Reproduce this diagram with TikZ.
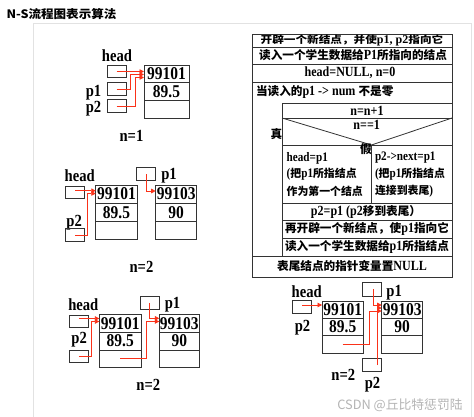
\documentclass[tikz,border=0pt]{standalone}
\usepackage{fontspec}
\setmainfont{Liberation Serif}
\newfontfamily\cjk{Noto Sans CJK SC}
\newfontfamily\cjkb[Scale=0.93]{Noto Sans CJK SC}
\usetikzlibrary{arrows.meta}
\definecolor{redc}{RGB}{250,50,25}
\definecolor{panelc}{RGB}{226,226,226}
\definecolor{wmc}{RGB}{180,180,180}
\newcommand\dl[1]{\scalebox{0.86}[1]{\fontsize{17}{17}\selectfont\bfseries #1}}
\newcommand\dv[1]{\scalebox{0.86}[1]{\fontsize{18}{18}\selectfont\bfseries #1}}
\newcommand\Z[1]{{\cjkb\bfseries #1}}
\newcommand\Lf[1]{\scalebox{0.86}[1]{\fontsize{14}{14}\selectfont\bfseries #1}}
\newcommand\Lb[1]{\scalebox{0.86}[1]{\fontsize{13}{13}\selectfont\bfseries #1}}
\newcommand\fa{\fontsize{12.5}{15}\selectfont}
\newcommand\fb{\fontsize{11.7}{14}\selectfont}
\tikzset{
  bx/.style={draw=black!80, line width=0.75pt, inner sep=0pt, outer sep=0pt},
  pb/.style={bx, minimum width=19pt, minimum height=12.3pt},
  txt/.style={inner sep=0pt, outer sep=0pt},
  ft/.style={txt, font=\fa},
  fbr/.style={txt, font=\fb, anchor=west},
  ptr/.style={draw=redc, line width=0.8pt, -{Triangle[length=4.5pt,width=4.5pt]}},
  ns/.style={draw=black!80, line width=0.8pt},
}
\begin{document}
\begin{tikzpicture}[x=1pt,y=-1pt]
\useasboundingbox (0,0) rectangle (474,417);
\fill[white] (0,0) rectangle (474,417);
\draw[panelc, line width=0.8pt] (33,417) -- (33,23.5) -- (471,23.5) -- (471,417);
% title
\node[txt] (title) at (61.5,14) {\scalebox{1.08}[1]{\fontsize{12.5}{12.5}\selectfont\cjkb\bfseries N-S流程图表示算法}};

% ---------- diagram 1 ----------
\node[txt] (hd1) at (117,56) {\dl{head}};
\node[txt] (lp11) at (93.5,92.5) {\dl{p1}};
\node[txt] (lp21) at (93.5,109) {\dl{p2}};
\node[pb] (H1) at (116.5,71.5) {};
\node[pb] (P11) at (116.5,89) {};
\node[pb] (P21) at (116.5,106) {};
\node[bx, minimum width=45pt, minimum height=17.8pt] (A1a) at (166.5,73.9) {\dv{99101}};
\node[bx, minimum width=45pt, minimum height=17.8pt] (A1b) at (166.5,91.7) {\dv{89.5}};
\node[bx, minimum width=45pt, minimum height=17.8pt] (A1c) at (166.5,109.5) {};
\node[txt] (n1) at (131.5,136) {\dl{n=1}};
\draw[ptr] (H1.center) -- (A1a.west |- H1.center);
\draw[ptr] (P11.center) -- ++(13.5,0) |- (A1a.west |- 0,74.5);
\draw[ptr] (P21.center) -- ++(19,0) |- (A1a.west |- 0,77.5);

% ---------- diagram 2 ----------
\node[txt] (hd2) at (79.7,175.5) {\dl{head}};
\node[txt] (lp22) at (74.2,222.5) {\dl{p2}};
\node[pb] (H2) at (75,192.2) {};
\node[pb] (P22) at (75,235) {};
\node[bx, minimum width=41.5pt, minimum height=18.2pt] (A2a) at (116.5,194.1) {\dv{99101}};
\node[bx, minimum width=41.5pt, minimum height=18.2pt] (A2b) at (116.5,212.3) {\dv{89.5}};
\node[bx, minimum width=41.5pt, minimum height=18.2pt] (A2c) at (116.5,230.5) {};
\node[bx, minimum width=41pt, minimum height=18.2pt] (B2a) at (176.2,194.1) {\dv{99103}};
\node[bx, minimum width=41pt, minimum height=18.2pt] (B2b) at (176.2,212.3) {\dv{90}};
\node[bx, minimum width=41pt, minimum height=18.2pt] (B2c) at (176.2,230.5) {};
\node[pb, minimum height=12.7pt] (Q2) at (146.2,174.2) {};
\node[txt] (lp12) at (169,176) {\dl{p1}};
\node[txt] (n2) at (141.5,266.5) {\dl{n=2}};
\draw[ptr] ([yshift=1.5pt]H2.center) -- (A2a.west |- 0,190.7);
\draw[ptr] (P22.center) -- ++(12.5,0) |- (A2a.west |- 0,193.5);
\draw[ptr] (Q2.center) |- (B2a.west |- 0,191);

% ---------- diagram 3 ----------
\node[txt] (hd3) at (83.3,305) {\dl{head}};
\node[txt] (lp23) at (79.2,340) {\dl{p2}};
\node[pb] (H3) at (78.8,321.2) {};
\node[pb] (P23) at (78.8,356.5) {};
\node[bx, minimum width=41.7pt, minimum height=17.8pt] (A3a) at (120.2,323.2) {\dv{99101}};
\node[bx, minimum width=41.7pt, minimum height=17.8pt] (A3b) at (120.2,341) {\dv{89.5}};
\node[bx, minimum width=41.7pt, minimum height=17.8pt] (A3c) at (120.2,358.8) {};
\node[bx, minimum width=40pt, minimum height=17.8pt] (B3a) at (179.3,323.2) {\dv{99103}};
\node[bx, minimum width=40pt, minimum height=17.8pt] (B3b) at (179.3,341) {\dv{90}};
\node[bx, minimum width=40pt, minimum height=17.8pt] (B3c) at (179.3,358.8) {};
\node[pb] (Q3) at (149.5,302.8) {};
\node[txt] (lp13) at (172.5,305) {\dl{p1}};
\node[txt] (n3) at (148.3,385) {\dl{n=2}};
\draw[ptr] ([yshift=2.7pt]H3.center) -- (A3a.west |- 0,318.5);
\draw[ptr] (P23.center) -- ++(13,0) |- (A3a.west |- 0,321.5);
\draw[ptr] (Q3.center) |- (B3a.west |- 0,318.3);
\draw[ptr] (A3c.center) -- ++(26,0) |- (B3a.west |- 0,321.5);

% ---------- diagram 4 ----------
\node[txt] (hd4) at (306.7,291.7) {\dl{head}};
\node[txt] (lp24) at (302.5,327.3) {\dl{p2}};
\node[pb, minimum height=12.6pt] (H4) at (302.2,307) {};
\node[bx, minimum width=41.3pt, minimum height=17.4pt] (A4a) at (342.7,309.7) {\dv{99101}};
\node[bx, minimum width=41.3pt, minimum height=17.4pt] (A4b) at (342.7,327.1) {\dv{89.5}};
\node[bx, minimum width=41.3pt, minimum height=17.4pt] (A4c) at (342.7,344.5) {};
\node[bx, minimum width=41pt, minimum height=17.4pt] (B4a) at (402.2,309.7) {\dv{99103}};
\node[bx, minimum width=41pt, minimum height=17.4pt] (B4b) at (402.2,327.1) {\dv{90}};
\node[bx, minimum width=41pt, minimum height=17.4pt] (B4c) at (402.2,344.5) {};
\node[pb, minimum height=13.3pt] (Q4) at (372.2,289.3) {};
\node[txt] (lp14) at (394.2,292.7) {\dl{p1}};
\node[pb, minimum height=13.4pt] (P24) at (372.2,365) {};
\node[txt] (lp2b) at (372.5,385) {\dl{p2}};
\node[txt] (n4) at (343.3,375) {\dl{n=2}};
\draw[ptr] ([yshift=2pt]H4.center) -- (A4a.west |- 0,305);
\draw[ptr] ([xshift=1.5pt]Q4.center) |- (B4a.west |- 0,305);
\draw[ptr] (A4c.center) -- ++(27,0) |- (B4a.west |- 0,311);
\draw[ptr] ([xshift=5.5pt]P24.center) |- (B4a.west |- 0,308);

% ---------- N-S flowchart ----------
\draw[ns] (252,34) rectangle (452,277);
\draw[ns] (252,47) -- (452,47);
\draw[ns] (252,64) -- (452,64);
\draw[ns] (252,82) -- (452,82);
\draw[ns] (252,256) -- (452,256);
\draw[ns] (282,103) rectangle (452,256);
\draw[ns] (282,118) -- (452,118);
\draw[ns] (282,145) -- (452,145);
\draw[ns] (282,203) -- (452,203);
\draw[ns] (282,220) -- (452,220);
\draw[ns] (282,238) -- (452,238);
\draw[ns] (371,145) -- (371,203);
\draw[ns] (282,118) -- (371.5,145) -- (452,118);

\node[ft] (r1) at (352,40.5) {\scalebox{1}[0.85]{\Z{开辟一个新结点，并使}\Lf{p1, p2}\Z{指向它}}};
\node[ft] (r2) at (353,55.5) {\Z{读入一个学生数据给}\Lf{P1}\Z{所指向的结点}};
\node[ft] (r3) at (350,73) {\Lf{head=NULL, n=0}};
\node[ft, anchor=west] (lh) at (256,92.5) {\Z{当读入的}\Lf{p1 -> num }\Z{不是零}};
\node[ft] (r5) at (367,110.5) {\Lf{n=n+1}};
\node[ft] (cond) at (366.7,124.5) {\Lf{n==1}};
\node[ft] (yes) at (276.5,134) {\Z{真}};
\node[ft] (no) at (366,149) {\Z{假}};
\node[fbr] (l1) at (286.7,158) {\Lb{head=p1}};
\node[fbr] (l2) at (286.7,174.5) {\Lb{(}\Z{把}\Lb{p1}\Z{所指结点}};
\node[fbr] (l3) at (286.7,191) {\Z{作为第一个结点}};
\node[fbr] (rr1) at (375,158) {\Lb{p2->next=p1}};
\node[fbr] (rr2) at (375,174.5) {\Lb{(}\Z{把}\Lb{p1}\Z{所指结点}};
\node[fbr] (rr3) at (375,191) {\Z{连接到表尾}\Lb{)}};
\node[ft] (r6) at (366,211.5) {\Lf{p2=p1 (p2}\Z{移到表尾）}};
\node[ft] (r7) at (367,229) {\Z{再开辟一个新结点，使}\Lf{p1}\Z{指向它}};
\node[ft] (r8) at (367,247) {\Z{读入一个学生数据给}\Lf{p1}\Z{所指结点}};
\node[ft] (r9) at (352,266.5) {\Z{表尾结点的指针变量置}\Lf{NULL}};

% watermark
\node[txt, text=wmc] (wm) at (400,405) {\fontsize{12.8}{13}\selectfont\cjk CSDN @丘比特惩罚陆};
\end{tikzpicture}
\end{document}
